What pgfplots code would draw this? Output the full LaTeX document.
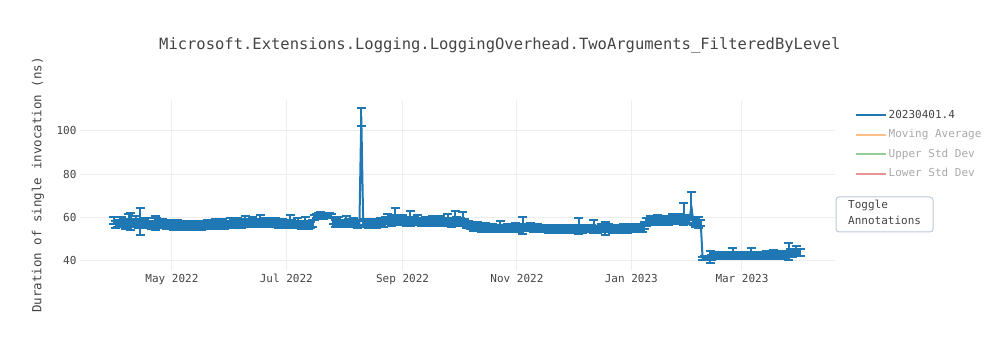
\documentclass[border=0pt]{standalone}
\usepackage{pgfplots}
\pgfplotsset{compat=1.18}
\usepackage{pgfplotstable}
\usepackage{fontspec}
\setmainfont{DejaVu Sans Mono}
\setmonofont{DejaVu Sans Mono}
\definecolor{plotblue}{HTML}{1F77B4}
\definecolor{textgray}{HTML}{444444}
\definecolor{hiddengray}{HTML}{A8A8A8}
\definecolor{gridgray}{HTML}{EEEEEE}
\definecolor{fadeorange}{HTML}{FFBF86}
\definecolor{fadegreen}{HTML}{95CF95}
\definecolor{fadered}{HTML}{EA9393}
\definecolor{btnborder}{HTML}{BEC8D9}

\pgfplotstableread{
x y e
-31 58.4 1.6
-30 56.7 1.4
-29 56.9 1.4
-28 57.4 1.5
-27 58.1 2.0
-26 57.8 1.6
-25 56.3 1.5
-24 57.0 1.4
-23 58.6 2.8
-22 58.2 3.8
-21 56.8 1.4
-20 57.9 1.5
-19 58.9 1.7
-18 56.6 1.4
-17 58.0 6.2
-16 57.3 1.6
-15 56.4 1.5
-14 58.3 1.5
-13 57.7 1.8
-12 56.9 1.4
-11 56.1 1.4
-10 56.7 1.5
-9 57.5 3.3
-8 58.0 1.6
-7 56.3 1.4
-6 57.1 1.4
-5 57.6 1.6
-4 56.6 1.5
-3 55.9 1.4
-2 57.4 1.4
-1 56.8 1.5
0 56.9 1.5
1 55.8 1.4
2 56.4 1.4
3 57.0 1.8
4 55.9 1.5
5 56.0 1.4
6 56.6 1.4
7 56.9 1.6
8 56.3 1.5
9 55.7 1.4
10 55.9 1.4
11 56.6 1.5
12 56.8 1.5
13 55.6 1.3
14 56.2 1.4
15 56.8 1.7
16 55.8 1.5
17 55.9 1.4
18 56.7 1.4
19 57.1 1.6
20 56.5 1.5
21 56.2 1.4
22 56.0 1.4
23 57.4 1.9
24 57.0 1.5
25 56.3 1.5
26 56.8 1.4
27 57.6 1.6
28 56.2 1.5
29 56.5 1.4
30 57.1 1.4
31 57.8 2.0
32 56.9 1.5
33 56.6 1.4
34 57.3 1.4
35 58.0 1.7
36 57.5 1.6
37 56.8 1.5
38 56.9 1.4
39 58.2 2.4
40 57.6 1.5
41 57.0 1.4
42 57.4 1.4
43 58.3 1.7
44 57.8 1.6
45 56.9 1.5
46 57.6 1.5
47 58.5 2.6
48 57.5 1.4
49 57.2 1.6
50 57.9 1.6
51 58.1 1.8
52 57.3 1.4
53 56.8 1.4
54 57.2 1.5
55 57.9 1.6
56 57.4 1.4
57 56.6 1.4
58 57.0 1.5
59 57.7 1.7
60 57.1 1.4
61 56.5 1.4
62 57.0 1.5
63 58.2 2.8
64 57.5 1.4
65 56.4 1.5
66 56.8 1.5
67 57.8 1.7
68 57.0 1.4
69 56.1 1.4
70 56.7 1.5
71 57.6 2.4
72 56.6 1.4
73 55.9 1.4
74 56.5 1.5
75 57.2 1.6
76 59.8 1.2
77 60.6 1.0
78 60.9 1.0
79 61.2 1.1
80 60.8 1.1
81 60.4 1.0
82 60.7 1.0
83 61.0 1.1
84 61.1 1.1
85 60.7 1.0
86 58.4 1.6
87 57.3 1.6
88 57.8 1.5
89 58.5 1.8
90 57.6 1.4
91 56.9 1.5
92 57.4 1.5
93 58.2 2.6
94 57.7 1.4
95 57.0 1.4
96 57.3 1.5
97 58.0 1.7
98 57.6 1.4
99 56.6 1.6
100 57.2 1.5
101 106.5 4.1
102 57.9 1.5
103 57.4 1.6
104 57.0 1.4
105 56.5 1.4
106 57.3 1.5
107 57.6 1.7
108 57.1 1.4
109 56.8 1.5
110 57.4 1.5
111 58.0 1.8
112 57.8 1.4
113 57.3 1.6
114 58.4 1.6
115 59.2 2.2
116 58.8 1.5
117 58.1 1.9
118 59.0 1.7
119 60.4 3.8
120 59.4 1.6
121 58.6 1.9
122 58.8 1.7
123 59.3 2.0
124 58.6 1.6
125 57.9 1.7
126 58.7 1.7
127 59.6 3.5
128 58.9 1.5
129 58.2 1.8
130 58.1 1.6
131 58.9 2.0
132 58.4 1.5
133 57.6 1.6
134 58.0 1.6
135 58.6 1.8
136 58.1 1.5
137 57.4 1.6
138 57.9 1.6
139 58.7 2.0
140 58.2 1.5
141 57.3 1.5
142 58.0 1.6
143 58.8 1.9
144 58.3 1.5
145 57.5 1.6
146 58.2 1.6
147 59.0 2.4
148 58.4 1.5
149 57.4 1.7
150 58.0 1.6
151 59.5 3.5
152 58.5 1.5
153 57.6 1.8
154 58.1 1.6
155 59.2 3.2
156 57.6 1.5
157 56.8 1.7
158 56.9 1.6
159 56.2 1.6
160 56.0 1.5
161 55.4 1.5
162 55.9 1.4
163 56.0 1.8
164 55.4 1.5
165 54.8 1.4
166 55.1 1.4
167 55.6 1.6
168 55.3 1.5
169 54.6 1.4
170 55.0 1.4
171 55.4 1.5
172 55.1 1.5
173 54.5 1.4
174 55.0 1.4
175 55.8 2.6
176 55.2 1.5
177 54.7 1.4
178 55.1 1.4
179 55.5 1.6
180 55.2 1.5
181 54.6 1.4
182 55.0 1.4
183 55.7 1.7
184 55.3 1.5
185 54.8 1.5
186 55.2 1.4
187 56.2 3.9
188 55.5 1.5
189 55.0 1.5
190 55.2 1.4
191 55.8 1.7
192 55.3 1.5
193 54.7 1.4
194 55.0 1.4
195 55.5 1.6
196 55.1 1.5
197 54.5 1.4
198 54.9 1.4
199 55.2 1.5
200 54.8 1.5
201 54.3 1.4
202 54.7 1.4
203 55.0 1.6
204 54.6 1.5
205 54.2 1.4
206 54.6 1.4
207 54.9 1.5
208 54.4 1.5
209 54.0 1.4
210 54.5 1.4
211 54.8 1.6
212 54.4 1.5
213 54.1 1.4
214 54.6 1.4
215 54.9 1.5
216 54.5 1.5
217 55.9 3.6
218 54.9 1.4
219 54.3 1.4
220 54.7 1.5
221 55.1 1.6
222 54.8 1.4
223 54.5 1.4
224 54.9 1.5
225 55.6 3.0
226 54.8 1.4
227 54.4 1.4
228 54.7 1.5
229 55.2 1.6
230 54.6 1.4
231 55.0 3.0
232 54.7 1.5
233 55.2 1.7
234 54.8 1.4
235 54.2 1.4
236 54.6 1.5
237 55.0 1.6
238 54.5 1.4
239 54.1 1.4
240 54.7 1.5
241 55.1 1.8
242 54.8 1.4
243 54.4 1.5
244 54.9 1.5
245 55.3 1.7
246 55.0 1.4
247 54.6 1.4
248 54.9 1.5
249 55.4 1.7
250 55.1 1.4
251 54.9 1.6
252 56.4 1.6
253 57.8 1.7
254 58.3 1.5
255 58.9 1.9
256 58.5 1.6
257 58.2 1.6
258 58.6 1.5
259 59.1 1.8
260 58.7 1.6
261 58.0 1.6
262 58.4 1.5
263 58.8 1.7
264 58.6 1.6
265 58.3 1.6
266 58.8 1.5
267 59.3 2.3
268 58.9 1.6
269 58.5 1.7
270 59.0 1.5
271 59.6 2.0
272 59.3 1.6
273 61.5 5.2
274 58.7 1.5
275 59.2 1.8
276 58.5 1.6
277 65.3 6.4
278 57.9 1.5
279 57.4 1.7
280 57.3 1.6
281 57.8 2.5
282 57.5 1.4
283 41.0 0.8
284 41.2 0.9
285 40.9 0.8
286 41.3 1.0
287 41.6 2.8
288 41.5 1.1
289 41.8 1.2
290 42.1 1.3
291 42.6 1.5
292 42.3 1.3
293 41.9 1.2
294 42.4 1.3
295 42.7 1.4
296 42.2 1.3
297 42.0 1.2
298 42.5 1.3
299 43.4 2.4
300 42.6 1.3
301 42.2 1.3
302 42.5 1.3
303 42.8 1.4
304 42.4 1.3
305 41.9 1.2
306 42.3 1.3
307 42.6 1.5
308 42.5 1.3
309 43.3 2.4
310 42.4 1.3
311 42.0 1.2
312 42.3 1.3
313 42.7 1.4
314 42.2 1.3
315 41.8 1.2
316 42.4 1.3
317 42.9 1.8
318 42.5 1.3
319 42.1 1.3
320 42.6 1.4
321 43.2 1.9
322 42.7 1.3
323 42.3 1.3
324 42.8 1.4
325 43.0 1.5
326 42.6 1.3
327 42.4 1.4
328 43.1 1.5
329 44.2 3.9
330 43.7 1.6
331 43.5 1.8
332 43.9 1.7
333 44.4 2.3
334 43.8 1.6
335 43.6 1.6
}\datatable

\begin{document}
\begin{tikzpicture}
\path[use as bounding box] (0pt,0pt) rectangle (1000pt,350pt);
\begin{axis}[
  at={(80pt,80pt)}, anchor=south west,
  scale only axis, width=755pt, height=170pt,
  xmin=-49, xmax=353.6, ymin=35.7, ymax=114.2,
  axis line style={draw=none},
  major tick length=0pt,
  xtick={0,61,123,184,245,304},
  xticklabels={May 2022,Jul 2022,Sep 2022,Nov 2022,Jan 2023,Mar 2023},
  ytick={40,60,80,100},
  grid=major,
  major grid style={color=gridgray, line width=1pt},
  /pgf/number format/assume math mode=true,
  tick label style={font=\fontsize{11}{13}\selectfont, text=textgray},
  xticklabel style={yshift=-1pt},
  title={Microsoft.Extensions.Logging.LoggingOverhead.TwoArguments\_FilteredByLevel},
  title style={at={(axis description cs:0.556,1.26)}, anchor=base, font=\fontsize{15.5}{18}\selectfont, text=textgray},
  ylabel={Duration of single invocation (ns)},
  ylabel style={at={(axis description cs:-0.0556,0.5)}, anchor=center, font=\fontsize{12.5}{14}\selectfont, text=textgray},
  legend style={at={(axis description cs:1.0265,0.95)}, anchor=north west, draw=none, fill=none, inner sep=0pt,
    row sep=6pt, font=\fontsize{11}{13}\selectfont, text=textgray,
    nodes={inner sep=1.5pt, text height=8pt, text depth=2.5pt}},
  legend cell align=left,
  legend image code/.code={\draw[#1, line width=2pt] (0pt,0pt) -- (30pt,0pt);},
  clip=true,
]
\addplot[color=plotblue, line width=2pt, mark=none, forget plot, line join=round,
  error bars/.cd, y dir=both, y explicit,
  error bar style={line width=2pt, color=plotblue},
  error mark options={rotate=90, line width=2pt, mark size=4.5pt, color=plotblue}]
  table[x=x, y=y, y error=e] {\datatable};
\addlegendimage{plotblue}
\addlegendentry{20230401.4}
\addlegendimage{fadeorange}
\addlegendentry[text=hiddengray]{Moving Average}
\addlegendimage{fadegreen}
\addlegendentry[text=hiddengray]{Upper Std Dev}
\addlegendimage{fadered}
\addlegendentry[text=hiddengray]{Lower Std Dev}
\end{axis}
\draw[btnborder, line width=1pt, rounded corners=3pt] (836pt,118pt) rectangle (933pt,153pt);
\node[anchor=west, inner sep=0pt, font=\fontsize{11}{13}\selectfont, text=textgray] at (848pt,145pt) {Toggle};
\node[anchor=west, inner sep=0pt, font=\fontsize{11}{13}\selectfont, text=textgray] at (848pt,130pt) {Annotations};
\end{tikzpicture}
\end{document}
